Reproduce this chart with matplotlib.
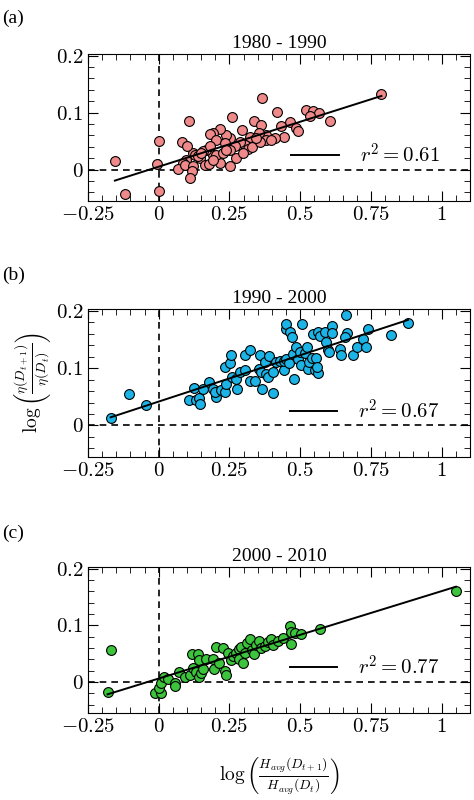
import numpy as np
import matplotlib
matplotlib.use("Agg")
import matplotlib.pyplot as plt
from matplotlib.ticker import MultipleLocator, FixedLocator

plt.rcParams['font.family'] = ['Liberation Serif', 'DejaVu Serif']
plt.rcParams['mathtext.fontset'] = 'cm'

titles = ["1980 - 1990", "1990 - 2000", "2000 - 2010"]
panel_tags = ["(a)", "(b)", "(c)"]
r2_values = ["0.61", "0.67", "0.77"]
colors = ["#f08a8a", "#1cb4e6", "#3cc43c"]

x1 = [-0.155,-0.12,0,-0.006,0,0.106,0.787,0.366,0.259,0.418,0.522,0.545,0.567,0.533,0.604,0.463,0.337,0.363,0.295,0.486,0.492,0.433,0.441,0.41,0.38,0.353,0.322,0.304,0.316,0.331,0.286,0.268,0.253,0.239,0.216,0.192,0.18,0.204,0.233,0.251,0.274,0.253,0.216,0.192,0.168,0.157,0.145,0.163,0.178,0.204,0.227,0.239,0.121,0.127,0.098,0.086,0.068,0.092,0.121,0.119,0.11,0.082,0.1,0.18,0.38,0.357,0.396,0.345,0.298,0.139,0.151,0.192]
y1 = [0.015,-0.042,0.051,0.01,-0.038,0.085,0.132,0.125,0.092,0.102,0.105,0.103,0.1,0.094,0.086,0.084,0.085,0.079,0.069,0.073,0.068,0.076,0.058,0.055,0.061,0.064,0.058,0.044,0.036,0.04,0.049,0.041,0.055,0.061,0.071,0.064,0.062,0.052,0.047,0.035,0.02,0.007,0.012,0.026,0.035,0.032,0.02,0.009,0.01,0.026,0.029,0.035,0.029,0.026,0.017,0.012,0.001,0.009,0.006,-0.003,-0.015,0.048,0.042,0.041,0.052,0.049,0.052,0.055,0.029,0.024,0.029,0.017]

x2 = [-0.17,-0.106,-0.046,0.106,0.124,0.133,0.142,0.147,0.157,0.178,0.19,0.202,0.199,0.221,0.233,0.237,0.233,0.253,0.257,0.26,0.274,0.278,0.286,0.304,0.305,0.324,0.322,0.339,0.353,0.357,0.363,0.366,0.375,0.38,0.389,0.386,0.404,0.404,0.416,0.428,0.441,0.441,0.451,0.46,0.474,0.478,0.486,0.492,0.498,0.501,0.516,0.524,0.528,0.531,0.54,0.551,0.555,0.563,0.559,0.451,0.449,0.463,0.471,0.508,0.545,0.563,0.569,0.589,0.614,0.614,0.592,0.598,0.602,0.639,0.645,0.663,0.666,0.657,0.687,0.699,0.723,0.733,0.741,0.82,0.881]
y2 = [0.013,0.055,0.036,0.045,0.065,0.044,0.048,0.037,0.064,0.076,0.063,0.049,0.059,0.061,0.059,0.073,0.102,0.108,0.123,0.084,0.081,0.063,0.093,0.096,0.122,0.131,0.077,0.077,0.099,0.123,0.093,0.064,0.11,0.09,0.121,0.084,0.093,0.057,0.11,0.113,0.096,0.113,0.116,0.108,0.125,0.081,0.137,0.116,0.128,0.105,0.127,0.137,0.099,0.11,0.117,0.096,0.117,0.092,0.102,0.169,0.176,0.163,0.154,0.176,0.16,0.163,0.156,0.163,0.174,0.161,0.145,0.131,0.128,0.134,0.123,0.192,0.162,0.154,0.123,0.137,0.15,0.137,0.169,0.158,0.178]

x3 = [-0.181,-0.17,1.05,-0.012,0.007,0.001,0.009,0.019,0.033,0.057,0.057,0.071,0.092,0.11,0.121,0.13,0.143,0.151,0.157,0.119,0.139,0.143,0.168,0.192,0.195,0.202,0.214,0.227,0.233,0.236,0.245,0.257,0.263,0.274,0.284,0.284,0.292,0.298,0.304,0.312,0.322,0.328,0.336,0.345,0.354,0.363,0.375,0.386,0.398,0.404,0.422,0.44,0.463,0.469,0.469,0.48,0.501,0.57]
y3 = [-0.018,0.056,0.161,-0.02,-0.02,-0.01,-0.002,0.008,0.005,-0.002,-0.007,0.018,0.008,0.013,0.025,0.018,0.008,0.016,0.022,0.05,0.049,0.038,0.04,0.041,0.022,0.062,0.034,0.06,0.019,0.013,0.051,0.038,0.046,0.051,0.058,0.04,0.062,0.034,0.051,0.069,0.075,0.057,0.049,0.066,0.072,0.06,0.064,0.07,0.075,0.066,0.072,0.078,0.098,0.089,0.067,0.086,0.085,0.094]

xs = [x1, x2, x3]
ys = [y1, y2, y3]

fig = plt.figure(figsize=(4.74, 8), dpi=100)
W, H = 474, 800
boxes = [(54, 201), (309, 457), (567, 713)]
tag_y = [10, 267, 525]
for i in range(3):
    top, bot = boxes[i]
    ax = fig.add_axes([88/W, 1-bot/H, (470-88)/W, (bot-top)/H])
    x = np.array(xs[i]); y = np.array(ys[i])
    ax.axhline(0, color='k', ls='--', lw=1.2, dashes=(4, 3))
    ax.axvline(0, color='k', ls='--', lw=1.2, dashes=(4, 3))
    ax.scatter(x, y, s=50, c=colors[i], edgecolors='k', linewidths=0.8, zorder=3)
    b, a = np.polyfit(x, y, 1)
    xl = np.array([x.min(), x.max()])
    ln, = ax.plot(xl, a + b*xl, color='k', lw=1.4, zorder=4)
    ax.legend([ln], [r'$r^2 = %s$' % r2_values[i]], loc='lower right',
              bbox_to_anchor=(0.97, 0.10), frameon=False, fontsize=15,
              handlelength=2.3, handletextpad=1.0)
    ax.set_xlim(-0.25, 1.1)
    ax.set_ylim(-0.055, 0.203)
    ax.xaxis.set_major_locator(FixedLocator([-0.25, 0, 0.25, 0.5, 0.75, 1]))
    ax.set_xticklabels([r'$-0.25$', r'$0$', r'$0.25$', r'$0.5$', r'$0.75$', r'$1$'])
    ax.yaxis.set_major_locator(FixedLocator([0, 0.1, 0.2]))
    ax.set_yticklabels([r'$0$', r'$0.1$', r'$0.2$'])
    ax.xaxis.set_minor_locator(MultipleLocator(0.05))
    ax.yaxis.set_minor_locator(MultipleLocator(0.02))
    ax.tick_params(which='both', direction='in', top=True, right=True, labelsize=15)
    ax.tick_params(which='major', length=7)
    ax.tick_params(which='minor', length=4)
    ax.set_title(titles[i], fontsize=14, pad=4)
    fig.text(2/W, 1-tag_y[i]/H, panel_tags[i], fontsize=14, va='top', ha='left')
    if i == 1:
        ax.set_ylabel(r'$\log\left(\frac{\eta(D_{t+1})}{\eta(D_t)}\right)$', fontsize=14, labelpad=2)
    if i == 2:
        ax.set_xlabel(r'$\log\left(\frac{H_{avg}(D_{t+1})}{H_{avg}(D_t)}\right)$', fontsize=14, labelpad=14)

fig.savefig("out.png", dpi=100)
